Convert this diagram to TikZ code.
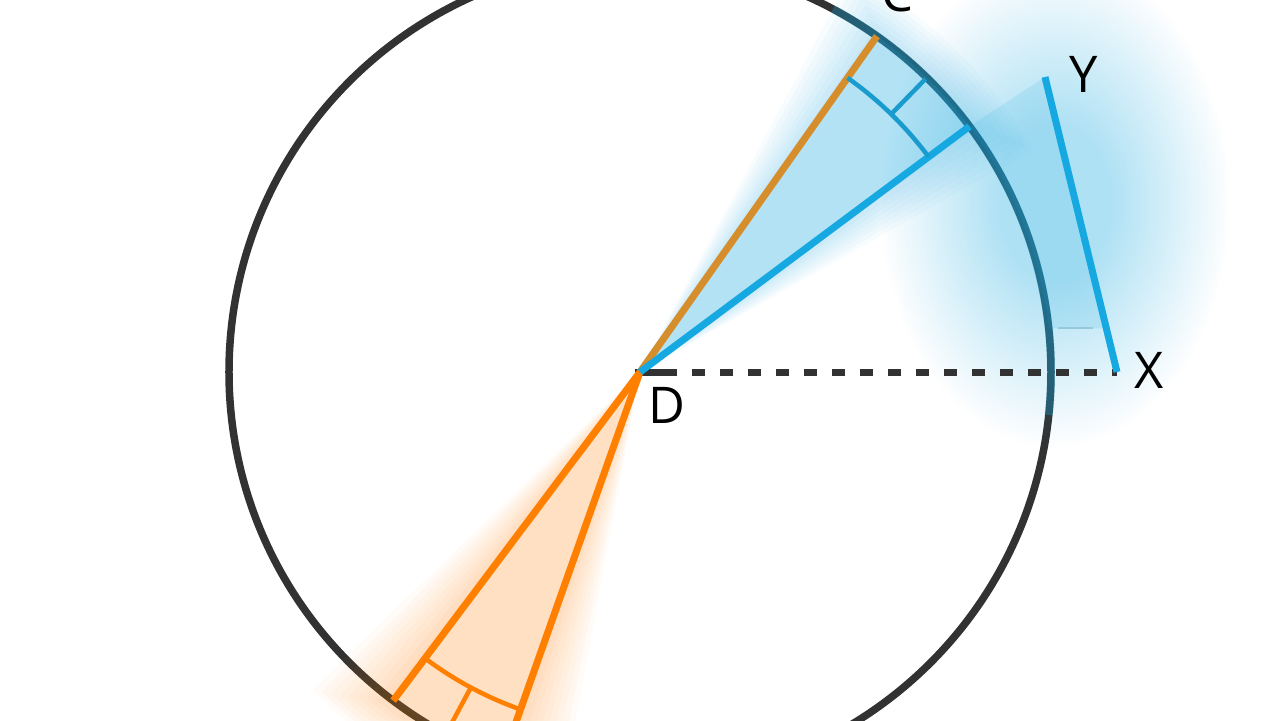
\documentclass[tikz,border=0pt]{standalone}
\usepackage{fontspec}
\setmainfont{Open Sans}
\usetikzlibrary{fadings}
\pgfdeclareradialshading{glowshade}{\pgfpointorigin}{color(0bp)=(pgftransparent!0); color(8bp)=(pgftransparent!0); color(16.5bp)=(pgftransparent!50); color(25bp)=(pgftransparent!100); color(50bp)=(pgftransparent!100)}
\pgfdeclarefading{glowfade}{\pgfuseshading{glowshade}}
\definecolor{cblue}{RGB}{22,168,224}
\definecolor{carc}{RGB}{25,155,205}
\definecolor{corange}{RGB}{255,128,0}
\definecolor{cgold}{RGB}{214,142,45}
\definecolor{cdark}{RGB}{50,50,50}
\definecolor{cfaint}{RGB}{150,200,222}
\begin{document}
\begin{tikzpicture}[x=0.05cm,y=0.05cm,
  lw/.style={line width=#1*0.05cm},
  lbl/.style={anchor=base, font=\fontsize{72}{86}\selectfont, text=black, inner sep=0pt},
  ring/.style={draw=cdark, lw=7.5},
  bluel/.style={draw=cblue, lw=7},
  orangel/.style={draw=corange, lw=7},
  goldl/.style={draw=cgold, lw=7},
  bluearc/.style={draw=carc, lw=4.5},
  orangearc/.style={draw=corange, lw=4.5},
  dashl/.style={draw=cdark, lw=7, dash pattern=on 13*0.05cm off 15*0.05cm},
  glowb/.style={fill=cblue, opacity=0.03},
  glowo/.style={fill=corange, opacity=0.03}]
\useasboundingbox (-640,-348) rectangle (640,372);
\fill[white] (-640,-348) rectangle (640,372);
% points
\coordinate (D) at (0,0);
\coordinate (C) at (54.8:411);
\coordinate (B) at (36.7:411);
\coordinate (X) at (477,0);
\coordinate (Y) at (405,295);
\coordinate (L1) at (233.1:411);
\coordinate (L2) at (250.5:411);
\coordinate (F) at (466.3,43.7);
\coordinate (S0) at (-5,0);
\coordinate (S1) at (24,0);
\coordinate (T0) at (45.75:360);
\coordinate (T1) at (45.75:409);
\coordinate (U0) at (241.8:358);
\coordinate (U1) at (241.8:411);
\coordinate (G0) at (418,44);
\coordinate (G1) at (453,44);
% circle
\draw[ring] (D) circle[radius=411];
% orange glow (outside the wedge only) and wedge
\begin{scope}
  \clip (-700,-400) -- (700,-400) -- (700,420) -- (-700,420) -- cycle
        (D) -- (L2) arc[start angle=250.5, end angle=233.1, radius=411] -- cycle;
  \foreach \k in {1,...,9}
    \path[glowo] (D) -- ({233.1-1.0*\k}:{411+5*\k}) arc[start angle={233.1-1.0*\k}, end angle={250.5+1.0*\k}, radius={411+5*\k}] -- cycle;
\end{scope}
\fill[corange, opacity=0.24] (D) -- (L1) arc[start angle=233.1, end angle=250.5, radius=411] -- cycle;
% blue glow round the outer region
\fill[cblue, opacity=0.34, path fading=glowfade] (415,170) ellipse[x radius=175, y radius=245];
% blue tint over the ring inside the glow
\draw[cblue, lw=8, opacity=0.3] (62:411) arc[start angle=62, end angle=-6, radius=411];
% blue glow round the wedge
\begin{scope}
  \clip (-700,-400) -- (700,-400) -- (700,420) -- (-700,420) -- cycle
        (D) -- (C) arc[start angle=54.8, end angle=36.7, radius=411] -- cycle;
  \foreach \k in {1,...,8}
    \path[glowb] (D) -- ({54.8+0.9*\k}:{411+5*\k}) arc[start angle={54.8+0.9*\k}, end angle={36.7-0.9*\k}, radius={411+5*\k}] -- cycle;
\end{scope}
\fill[cblue, opacity=0.33] (D) -- (C) arc[start angle=54.8, end angle=36.7, radius=411] -- cycle;
\fill[cblue, opacity=0.12] (B) arc[start angle=36.7, end angle=6.1, radius=411] -- (F) -- (Y) -- cycle;
% dashed line D to X
\draw[dashl] (S1) -- (X);
\draw[draw=cdark, lw=7] (S0) -- (S1);
\draw[draw=cfaint, lw=2] (G0) -- (G1);
% lines
\draw[orangel] (D) -- (L1);
\draw[orangel] (D) -- (L2);
\draw[goldl] (D) -- (C);
\draw[bluel] (D) -- (B);
\draw[bluel] (X) -- (Y);
% angle marks
\draw[bluearc] (54.8:360) arc[start angle=54.8, end angle=36.7, radius=360];
\draw[bluearc] (T0) -- (T1);
\draw[orangearc] (233.1:358) arc[start angle=233.1, end angle=250.5, radius=358];
\draw[orangearc] (U0) -- (U1);
% labels
\node[lbl] (lD) at (27,-51) {D};
\node[lbl] (lX) at (509,-16) {X};
\node[lbl] (lY) at (444,279) {Y};
\node[lbl] (lC) at (257,360) {C};
\end{tikzpicture}
\end{document}
